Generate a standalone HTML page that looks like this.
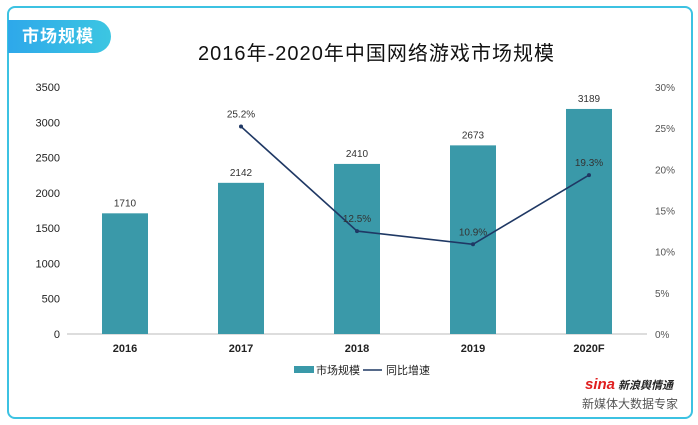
<!DOCTYPE html>
<html><head><meta charset="utf-8"><style>
body{margin:0;width:698px;height:425px;background:#fff;font-family:"Liberation Sans","Noto Sans CJK SC",sans-serif;position:relative;overflow:hidden}
#frame{position:absolute;left:7px;top:6px;width:682px;height:409px;border:2px solid #3cc2e2;border-radius:8px}
#badge{position:absolute;left:8px;top:20px;width:103px;height:33px;background:linear-gradient(90deg,#2ea8ea,#3cc6e2);border-radius:0 17px 17px 0;color:#fff;font-size:17px;font-weight:bold;line-height:33px;padding-left:14px;box-sizing:border-box;letter-spacing:1px}
svg{position:absolute;left:0;top:0}
</style></head><body>
<div id="frame"></div>
<div id="badge">市场规模</div>
<svg id="chart" width="698" height="425"></svg>
<script>
const categories=["2016","2017","2018","2019","2020F"];
const marketSize=[1710,2142,2410,2673,3189];
const growth=[null,25.2,12.5,10.9,19.3];
const leftTicks=[0,500,1000,1500,2000,2500,3000,3500];
const rightTicks=[0,5,10,15,20,25,30];
const NS="http://www.w3.org/2000/svg";
const svg=document.getElementById('chart');
const x0=67,bw=116,yTop=87,yBot=334;
const xc=i=>x0+bw*(i+0.5);
const yL=v=>yBot-(v/3500)*(yBot-yTop);
const yR=v=>yBot-(v/30)*(yBot-yTop);
function el(t,a,txt){const e=document.createElementNS(NS,t);for(const k in a)e.setAttribute(k,a[k]);if(txt!=null)e.textContent=txt;svg.appendChild(e);return e;}
let t=el('text',{x:376,y:60,'text-anchor':'middle','font-size':20,fill:'#111',textLength:356},'2016年-2020年中国网络游戏市场规模');


leftTicks.forEach(v=>{const e=el('text',{x:60,y:yL(v)+4,'text-anchor':'end','font-size':11,fill:'#222'},v);

});
rightTicks.forEach(v=>{const e=el('text',{x:655,y:yR(v)+4,'font-size':10,fill:'#555'},v+'%');

});
const base=el('line',{x1:x0,x2:x0+bw*5,y1:yBot,y2:yBot,stroke:'#bbb'});


categories.forEach((c,i)=>{
 const b=el('rect',{x:xc(i)-23,y:yL(marketSize[i]),width:46,height:yBot-yL(marketSize[i]),fill:'#3a99a9'});
 
 
 const l=el('text',{x:xc(i),y:yL(marketSize[i])-7,'text-anchor':'middle','font-size':10,fill:'#333'},marketSize[i]);
 
 
 const xl=el('text',{x:xc(i),y:352,'text-anchor':'middle','font-size':11,'font-weight':'bold',fill:'#222'},c);
 
 
});
let pts=[];growth.forEach((g,i)=>{if(g!=null)pts.push([xc(i),yR(g)]);});
const pl=el('polyline',{points:pts.map(p=>p.join(',')).join(' '),fill:'none',stroke:'#1f3864','stroke-width':1.6});


growth.forEach((g,i)=>{if(g==null)return;
 const d=el('circle',{cx:xc(i),cy:yR(g),r:2,fill:'#1f3864'});
 
 
 const l=el('text',{x:xc(i),y:yR(g)-9,'text-anchor':'middle','font-size':10,fill:'#333'},g.toFixed(1)+'%');
 
 
});
const lg1=el('rect',{x:294,y:366,width:20,height:7,fill:'#3a99a9'});


const lt1=el('text',{x:316,y:374,'font-size':11,fill:'#222'},'市场规模');


const lg2=el('line',{x1:363,x2:382,y1:370,y2:370,stroke:'#1f3864','stroke-width':1.6});


const lt2=el('text',{x:386,y:374,'font-size':11,fill:'#222'},'同比增速');


const s1=el('text',{x:585,y:389,'font-size':15,'font-weight':'bold','font-style':'italic',fill:'#e02020'},'sina');


const s2=el('text',{x:618,y:389,'font-size':11,'font-weight':'bold','font-style':'italic',fill:'#222'},'新浪舆情通');


const s3=el('text',{x:582,y:408,'font-size':12,fill:'#555'},'新媒体大数据专家');


</script>
</body></html>
